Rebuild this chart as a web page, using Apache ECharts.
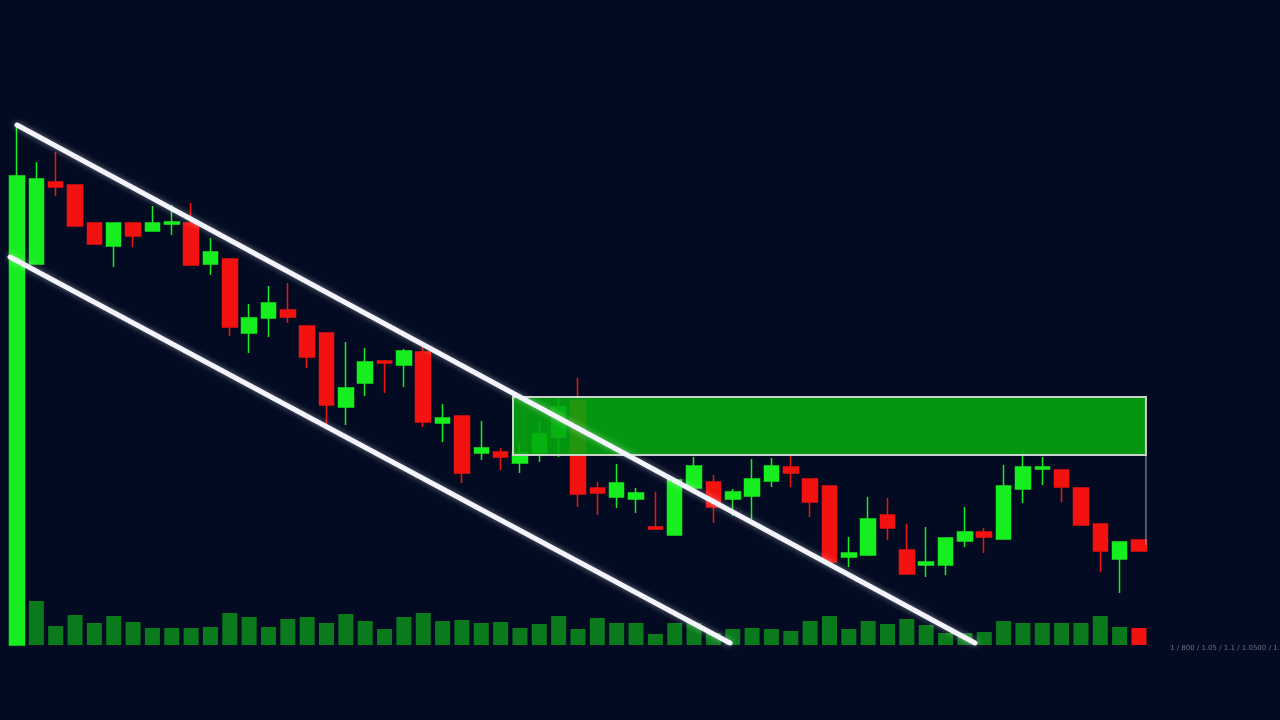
<!DOCTYPE html>
<html>
<head>
<meta charset="utf-8">
<script src="https://cdn.jsdelivr.net/npm/echarts@6/dist/echarts.min.js"></script>
<style>
html,body{margin:0;padding:0;background:#020b21;}
#chart{width:1280px;height:720px;}
</style>
</head>
<body>
<div id="chart"></div>
<script>
// Candles: [open, close, low, high]
const candleOpen  = [7.5,45.6,53.8,53.5,49.7,47.4,49.7,48.9,49.6,49.7,45.6,46.1,38.7,40.2,41.0,39.4,38.7,31.3,33.7,35.9,35.5,36.8,29.7,30.4,26.7,26.8,25.7,26.7,28.3,32.0,23.2,22.3,22.1,19.3,18.5,23.2,23.8,22.1,22.4,23.9,25.3,24.1,23.4,16.3,16.5,20.5,17.0,15.5,15.5,17.9,18.8,18.1,23.1,25.1,25.0,23.2,19.6,16.1,18.0];
const candleClose = [54.4,54.1,53.3,49.4,47.6,49.7,48.4,49.7,49.8,45.5,46.8,39.3,40.2,41.7,40.3,36.3,31.5,33.2,35.8,35.7,36.9,29.8,30.2,24.7,27.2,26.3,26.7,28.6,31.3,22.6,22.7,23.7,22.7,19.1,24.0,25.4,21.3,22.8,24.1,25.4,24.7,21.8,15.8,16.7,20.1,19.2,14.6,15.8,18.2,18.8,18.3,23.4,25.3,25.3,23.3,19.5,16.9,17.8,16.9];
const candleLow   = [7.5,45.6,52.4,49.4,47.6,45.3,47.3,48.9,48.5,45.5,44.5,38.4,36.7,38.3,39.7,35.2,29.3,29.5,32.4,32.7,33.3,29.3,27.8,23.7,26.0,25.0,24.7,25.8,26.3,21.3,20.5,21.2,20.7,19.0,18.5,23.0,19.7,20.4,20.1,23.3,23.3,20.3,15.8,15.3,16.5,18.0,14.6,14.3,14.5,17.3,16.7,18.1,21.7,23.5,21.8,19.5,14.8,12.7,16.9];
const candleHigh  = [59.5,55.8,56.8,53.5,49.7,49.7,49.7,51.4,51.5,51.7,48.2,46.1,41.6,43.4,43.7,39.4,38.7,37.8,37.2,36.0,37.1,37.6,31.6,30.4,29.9,27.2,27.7,29.8,32.3,34.2,23.8,25.6,23.2,22.8,24.2,26.3,24.5,23.1,26.1,26.2,26.7,24.1,23.4,18.3,22.3,22.2,19.6,19.3,18.2,21.3,19.2,25.5,27.0,26.3,25.0,23.2,19.6,17.8,18.0];
const volumes     = [44,44,19,30,22,29,23,17,17,17,18,32,28,18,26,28,22,31,24,16,28,32,24,25,22,23,17,21,29,16,27,22,22,11,22,22,12,16,17,16,14,24,29,16,24,21,26,20,12,12,13,24,22,22,22,22,29,18,17];
const volumeUp    = [1,1,1,1,1,1,1,1,1,1,1,1,1,1,1,1,1,1,1,1,1,1,1,1,1,1,1,1,1,1,1,1,1,1,1,1,1,1,1,1,1,1,1,1,1,1,1,1,1,1,1,1,1,1,1,1,1,1,0];
const categories  = candleOpen.map((_, i) => 'D' + (i + 1));

// Annotations in [candle index, price]
const upperTrend = [[0, 59.5], [49.52, 7.7]];
const lowerTrend = [[-0.36, 46.3], [36.86, 7.7]];
const zoneX = [25.64, 58.36];
const zoneY = [26.5, 32.3];
const zoneEdge = [[58.36, 26.5], [58.36, 17.5]];
const arrowShaft = [[58.83, 17.7], [65.13, 38.7]];
const arrowHead = [[63.94, 37.3], [65.13, 38.7], [65.13, 36.5]];
const footnote = '1 / 800 / 1.05 / 1.1 / 1.0500 / 1.00';

const GREEN = '#17ee1f', RED = '#f2120f', VOL = '#0b7a1d';

const candleData = candleOpen.map((o, i) => [o, candleClose[i], candleLow[i], candleHigh[i]]);
const volData = volumes.map((v, i) => ({
  value: v,
  itemStyle: { color: i === 0 ? GREEN : (volumeUp[i] ? VOL : RED) }
}));

const chart = echarts.init(document.getElementById('chart'));
const gridLeft = 7.33, gridWidth = 1141.33;
chart.setOption({
  backgroundColor: '#020b21',
  animation: false,
  grid: [
    { left: gridLeft, width: gridWidth, top: 0, height: 720 },
    { left: gridLeft, width: gridWidth, top: 545, height: 100 }
  ],
  xAxis: [
    { type: 'category', data: categories, gridIndex: 0, show: false, boundaryGap: true },
    { type: 'category', data: categories, gridIndex: 1, show: false, boundaryGap: true },
    { type: 'value', gridIndex: 0, min: -0.5, max: 58.5, show: false }
  ],
  yAxis: [
    { type: 'value', gridIndex: 0, min: 0, max: 72, show: false },
    { type: 'value', gridIndex: 1, min: 0, max: 100, show: false }
  ],
  graphic: [{
    type: 'text', left: 1170, top: 645, z: 100,
    style: { text: footnote, fill: '#6d7489', font: '7px "DejaVu Sans"' }
  }],
  series: [
    {
      type: 'bar', xAxisIndex: 1, yAxisIndex: 1, data: volData,
      barWidth: 15, z: 2
    },
    {
      type: 'candlestick', xAxisIndex: 0, yAxisIndex: 0, data: candleData,
      barWidth: 15, z: 3,
      itemStyle: { color: GREEN, color0: RED, borderColor: GREEN, borderColor0: RED, borderWidth: 1.5 }
    },
    {
      type: 'line', xAxisIndex: 2, yAxisIndex: 0, data: zoneEdge, z: 4,
      symbol: 'none', lineStyle: { color: '#9aa3b0', width: 1 }
    },
    {
      type: 'custom', xAxisIndex: 2, yAxisIndex: 0, z: 5, silent: true,
      data: [[zoneX[0], zoneY[1], zoneX[1], zoneY[0]]],
      renderItem: function (params, api) {
        const p1 = api.coord([api.value(0), api.value(1)]);
        const p2 = api.coord([api.value(2), api.value(3)]);
        return {
          type: 'rect',
          shape: { x: p1[0], y: p1[1], width: p2[0] - p1[0], height: p2[1] - p1[1] },
          style: { fill: 'rgba(4,170,14,0.88)', stroke: '#c9d3c9', lineWidth: 2 }
        };
      }
    },
    {
      type: 'line', xAxisIndex: 2, yAxisIndex: 0, data: upperTrend, z: 6,
      symbol: 'none',
      lineStyle: { color: '#f4f4ff', width: 5, cap: 'round', shadowBlur: 6, shadowColor: 'rgba(255,255,255,0.45)' }
    },
    {
      type: 'line', xAxisIndex: 2, yAxisIndex: 0, data: lowerTrend, z: 6,
      symbol: 'none',
      lineStyle: { color: '#f4f4ff', width: 5, cap: 'round', shadowBlur: 6, shadowColor: 'rgba(255,255,255,0.45)' }
    },
    {
      type: 'line', xAxisIndex: 2, yAxisIndex: 0, data: arrowShaft, z: 6, clip: false,
      symbol: 'none', lineStyle: { color: '#1fe82a', width: 3, cap: 'round' }
    },
    {
      type: 'line', xAxisIndex: 2, yAxisIndex: 0, data: arrowHead, z: 6, clip: false,
      symbol: 'none', lineStyle: { color: '#1fe82a', width: 3, cap: 'round', join: 'round' }
    }
  ]
});
</script>
</body>
</html>
